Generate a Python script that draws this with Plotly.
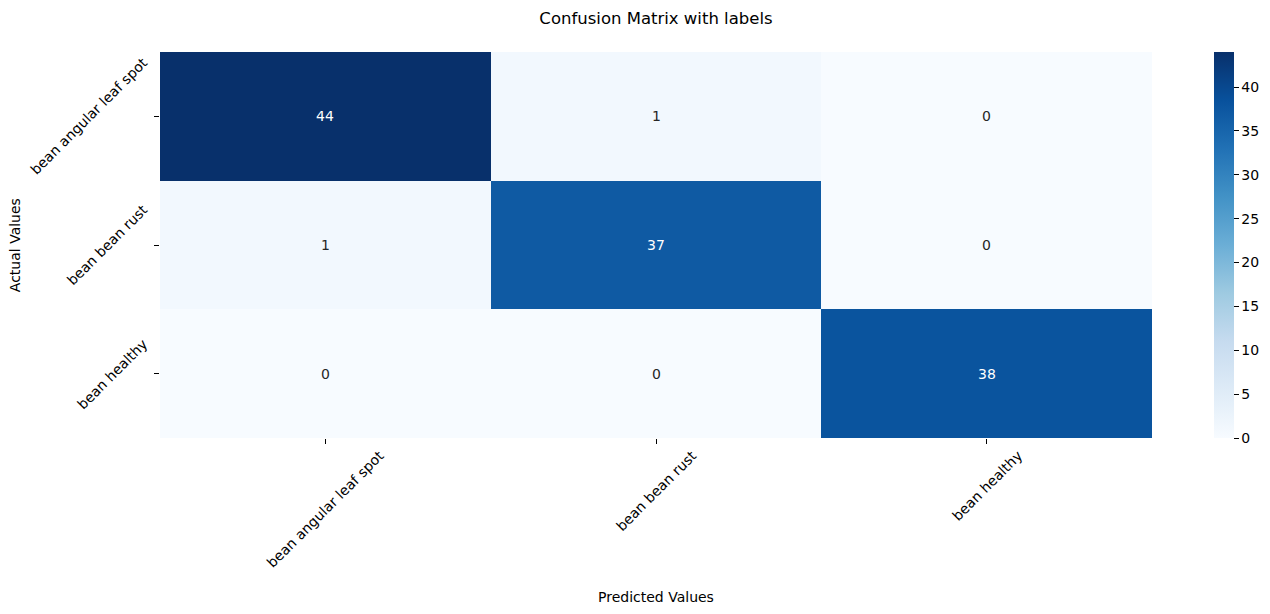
import plotly.graph_objects as go

labels = ["bean angular leaf spot", "bean bean rust", "bean healthy"]
values = [
    [44, 1, 0],
    [1, 37, 0],
    [0, 0, 38],
]
cbar_ticks = [0, 5, 10, 15, 20, 25, 30, 35, 40]

blues = ['#f7fbff', '#deebf7', '#c6dbef', '#9ecae1', '#6baed6',
         '#4292c6', '#2171b5', '#08519c', '#08306b']
colorscale = [[i / (len(blues) - 1), c] for i, c in enumerate(blues)]

zmax = max(max(r) for r in values)
zmin = 0
FONT = "DejaVu Sans"
FS = 14

fig = go.Figure(go.Heatmap(
    z=values, x=labels, y=labels,
    colorscale=colorscale, zmin=zmin, zmax=zmax,
    colorbar=dict(
        x=1.0625, xanchor="left", xpad=0, y=0.5, yanchor="middle", ypad=0,
        len=1, lenmode="fraction", thickness=20,
        outlinewidth=0, tickvals=cbar_ticks, ticks="outside", ticklen=5,
        tickcolor="#000", tickfont=dict(family=FONT, size=FS, color="#000"),
    ),
    hoverinfo="skip",
))

annotations = []
for i, row in enumerate(values):
    for j, v in enumerate(row):
        color = "white" if (v - zmin) / (zmax - zmin) > 0.5 else "#262626"
        annotations.append(dict(
            x=labels[j], y=labels[i], text=str(v), showarrow=False,
            font=dict(family=FONT, size=FS, color=color),
        ))

# rotated tick labels (matplotlib-style alignment)
for lab in labels:
    annotations.append(dict(
        x=lab, y=0, xref="x", yref="paper", text=lab, showarrow=False,
        xanchor="center", yanchor="top", textangle=-45, yshift=-8,
        borderpad=0, font=dict(family=FONT, size=FS, color="#000"),
    ))
    annotations.append(dict(
        x=0, y=lab, xref="paper", yref="y", text=lab, showarrow=False,
        xanchor="right", yanchor="middle", textangle=-45, xshift=-8,
        borderpad=0, font=dict(family=FONT, size=FS, color="#000"),
    ))

annotations.append(dict(
    x=0.5, y=-0.412, xref="paper", yref="paper", text="Predicted Values",
    showarrow=False, xanchor="center", yanchor="middle",
    font=dict(family=FONT, size=FS, color="#000"),
))
annotations.append(dict(
    x=-0.146, y=0.5, xref="paper", yref="paper", text="Actual Values",
    showarrow=False, xanchor="center", yanchor="middle", textangle=-90,
    font=dict(family=FONT, size=FS, color="#000"),
))

fig.update_layout(
    width=1270, height=614,
    margin=dict(l=160, r=118, t=52, b=176, autoexpand=False),
    paper_bgcolor="white", plot_bgcolor="white",
    title=dict(text="Confusion Matrix with labels", x=0.5, xref="paper",
               xanchor="center", y=1 - 18 / 614, yanchor="middle",
               font=dict(family=FONT, size=16.5, color="#000")),
    annotations=annotations,
    xaxis=dict(showgrid=False, zeroline=False, showline=False, showticklabels=False,
               ticks="outside", ticklen=5, tickcolor="#000", automargin=False),
    yaxis=dict(showgrid=False, zeroline=False, showline=False, showticklabels=False,
               autorange="reversed",
               ticks="outside", ticklen=5, tickcolor="#000", automargin=False),
)

fig.write_html("out.html")
